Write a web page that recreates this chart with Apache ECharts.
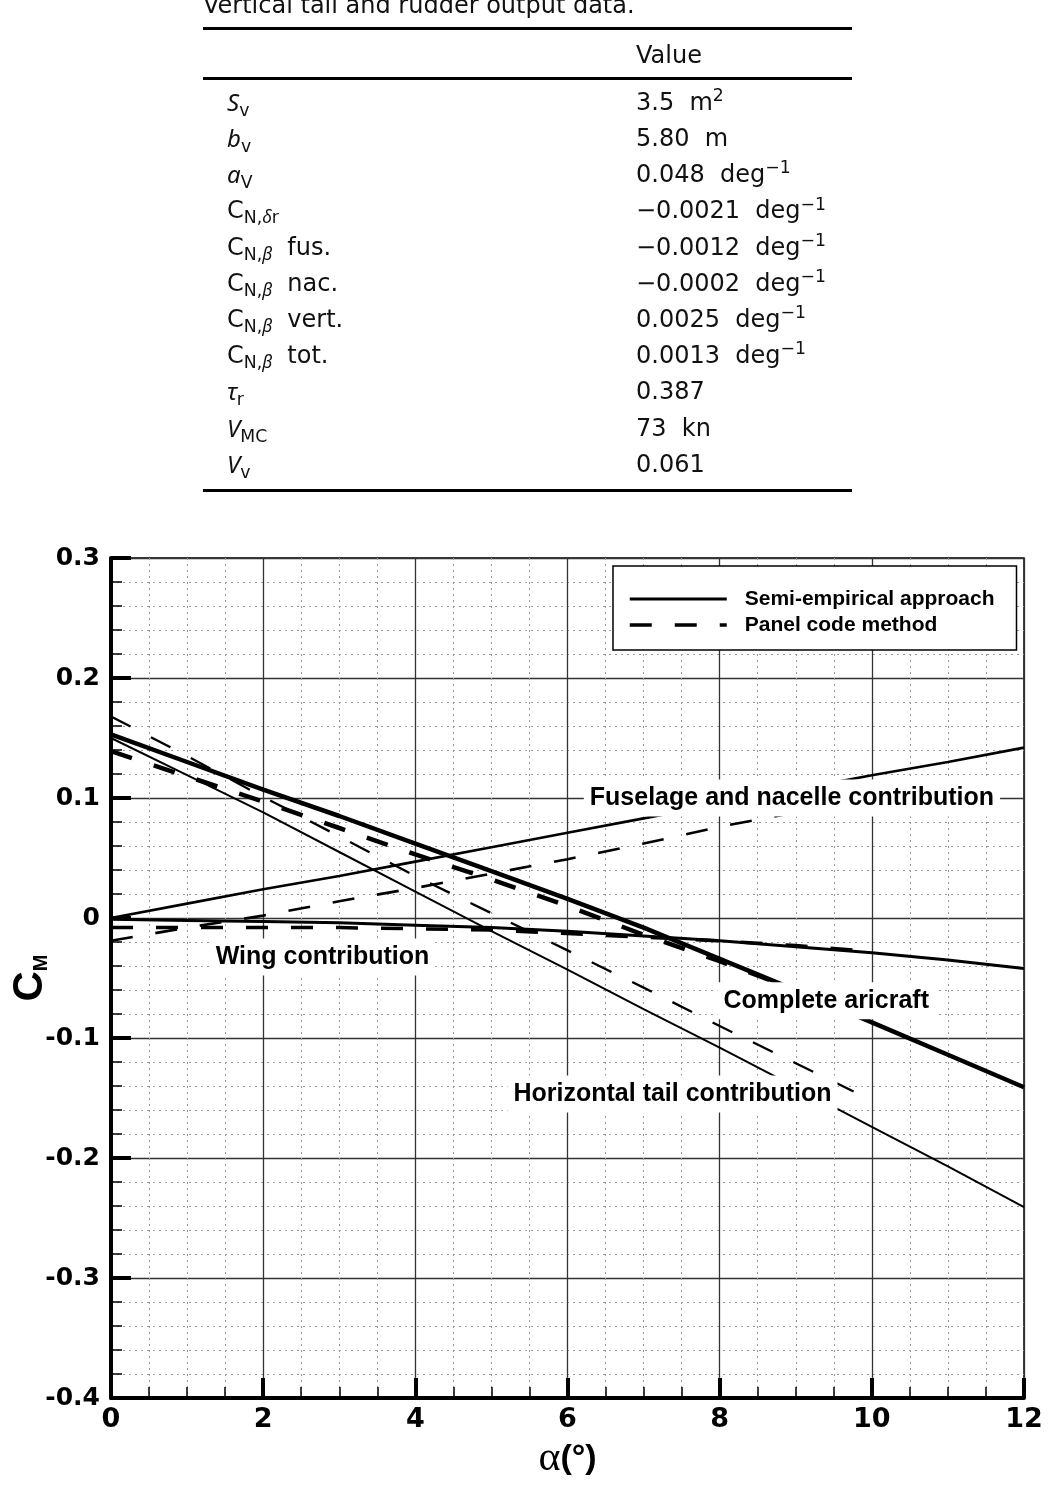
<!DOCTYPE html>
<html>
<head>
<meta charset="utf-8">
<script src="https://cdn.jsdelivr.net/npm/echarts/dist/echarts.min.js"></script>
<style>
html,body{margin:0;padding:0;background:#fff;width:1059px;height:1497px;overflow:hidden;}
#chart{position:absolute;left:0;top:0;width:1059px;height:1497px;z-index:0;}
#table{position:absolute;left:0;top:0;width:1059px;height:520px;z-index:1;font-family:'DejaVu Sans',sans-serif;font-size:24px;color:#111;}
.t{position:absolute;white-space:nowrap;line-height:30px;height:30px;}
.rule{position:absolute;left:203px;width:649px;height:2.5px;background:#000;}
.sb{font-size:0.72em;position:relative;top:0.3em;line-height:0;}
.sp{font-size:0.72em;position:relative;top:-0.5em;line-height:0;}
.it{font-style:italic;font-family:'Noto Sans',sans-serif;}
</style>
</head>
<body>
<div id="chart"></div>
<div id="table"></div>
<script>
// ---------------- table data ----------------
const tableCaption = 'Vertical tail and rudder output data.';
const tableHeader = 'Value';
const tableParams = [
  '<span class="it">S</span><span class="sb">v</span>',
  '<span class="it">b</span><span class="sb">v</span>',
  '<span class="it">a</span><span class="sb">V</span>',
  'C<span class="sb">N,<span class="it">δ</span>r</span>',
  'C<span class="sb">N,<span class="it">β</span></span>&nbsp; fus.',
  'C<span class="sb">N,<span class="it">β</span></span>&nbsp; nac.',
  'C<span class="sb">N,<span class="it">β</span></span>&nbsp; vert.',
  'C<span class="sb">N,<span class="it">β</span></span>&nbsp; tot.',
  '<span class="it">τ</span><span class="sb">r</span>',
  '<span class="it">V</span><span class="sb">MC</span>',
  '<span class="it">V</span><span class="sb">v</span>'
];
const tableValues = [
  '3.5&nbsp; m<span class="sp">2</span>',
  '5.80&nbsp; m',
  '0.048&nbsp; deg<span class="sp">−1</span>',
  '−0.0021&nbsp; deg<span class="sp">−1</span>',
  '−0.0012&nbsp; deg<span class="sp">−1</span>',
  '−0.0002&nbsp; deg<span class="sp">−1</span>',
  '0.0025&nbsp; deg<span class="sp">−1</span>',
  '0.0013&nbsp; deg<span class="sp">−1</span>',
  '0.387',
  '73&nbsp; kn',
  '0.061'
];

// ---------------- chart data ----------------
const alphaSemi = [0, 1, 2, 3, 4, 5, 6, 7, 8, 9, 10, 11, 12];
const cmSemiComplete = [0.153, 0.130, 0.107, 0.085, 0.062, 0.039, 0.016, -0.008, -0.034, -0.060, -0.087, -0.114, -0.141];
const cmSemiTail = [0.150, 0.119, 0.088, 0.055, 0.022, -0.011, -0.043, -0.076, -0.108, -0.141, -0.174, -0.207, -0.241];
const cmSemiFuselage = [0.000, 0.012, 0.024, 0.035, 0.047, 0.059, 0.071, 0.083, 0.095, 0.107, 0.119, 0.130, 0.142];
const cmSemiWing = [-0.001, -0.002, -0.003, -0.004, -0.006, -0.008, -0.011, -0.015, -0.019, -0.024, -0.029, -0.035, -0.042];

const alphaPanel = [0, 1, 2, 3, 4, 5, 6, 7, 8, 9, 10];
const cmPanelComplete = [0.139, 0.118, 0.097, 0.075, 0.053, 0.032, 0.010, -0.014, -0.036, -0.060, -0.087];
const cmPanelTail = [0.168, 0.135, 0.101, 0.068, 0.035, 0.004, -0.027, -0.058, -0.090, -0.121, -0.152];
const cmPanelFuselage = [-0.019, -0.008, 0.002, 0.014, 0.025, 0.037, 0.049, 0.062, 0.076, 0.088, 0.100];
const cmPanelWing = [-0.008, -0.008, -0.008, -0.008, -0.009, -0.010, -0.013, -0.016, -0.019, -0.023, -0.028];

const methodNames = ['Semi-empirical approach', 'Panel code method'];
const curveLabels = ['Fuselage and nacelle contribution', 'Wing contribution', 'Complete aricraft', 'Horizontal tail contribution'];
const yAxisName = 'CM';

// ---------------- table layout ----------------
(function buildTable() {
  const t = document.getElementById('table');
  let html = '';
  html += '<div class="t" style="left:203px;top:-10px;">' + tableCaption + '</div>';
  html += '<div class="rule" style="top:27px;"></div>';
  html += '<div class="t" style="left:636px;top:40px;">' + tableHeader + '</div>';
  html += '<div class="rule" style="top:77px;"></div>';
  for (let i = 0; i < tableParams.length; i++) {
    const top = 110 - 23.3 + i * 36.2;
    html += '<div class="t" style="left:227px;top:' + top + 'px;">' + tableParams[i] + '</div>';
    html += '<div class="t" style="left:636px;top:' + top + 'px;">' + tableValues[i] + '</div>';
  }
  html += '<div class="rule" style="top:489px;"></div>';
  t.innerHTML = html;
})();

// ---------------- chart ----------------
const pairs = (xs, ys) => xs.map((x, i) => [x, ys[i]]);
const DASH = [22, 23];
const lineSpecs = [
  { name: methodNames[0], data: pairs(alphaSemi, cmSemiFuselage), width: 2.6, type: 'solid' },
  { name: methodNames[0], data: pairs(alphaSemi, cmSemiWing), width: 3, type: 'solid' },
  { name: methodNames[0], data: pairs(alphaSemi, cmSemiTail), width: 2, type: 'solid' },
  { name: methodNames[0], data: pairs(alphaSemi, cmSemiComplete), width: 4.5, type: 'solid' },
  { name: methodNames[1], data: pairs(alphaPanel, cmPanelFuselage), width: 2.6, type: DASH },
  { name: methodNames[1], data: pairs(alphaPanel, cmPanelWing), width: 3.5, type: DASH },
  { name: methodNames[1], data: pairs(alphaPanel, cmPanelTail), width: 2.3, type: DASH },
  { name: methodNames[1], data: pairs(alphaPanel, cmPanelComplete), width: 4.5, type: DASH }
];
const labelAnchors = [[8.95, 0.100], [2.78, -0.0325], [9.40, -0.069], [7.38, -0.1467]];

const series = lineSpecs.map(s => ({
  type: 'line', name: s.name, data: s.data, symbol: 'none', showSymbol: false,
  lineStyle: { color: '#000', width: s.width, type: s.type, cap: 'butt' },
  itemStyle: { color: '#000' }, z: 2, silent: true
}));
series.push({
  type: 'scatter', name: 'labels', z: 5, silent: true,
  symbol: 'rect', symbolSize: 1, itemStyle: { color: 'rgba(0,0,0,0)', opacity: 1 },
  emphasis: { disabled: true },
  data: labelAnchors.map((p, i) => [p[0], p[1], curveLabels[i]]),
  label: {
    show: true, position: 'inside', formatter: p => p.data[2],
    fontFamily: 'Liberation Sans', fontWeight: 'bold', fontSize: 25, color: '#000',
    textBorderWidth: 0, opacity: 1,
    backgroundColor: '#fff', padding: [6, 6, 6, 6]
  }
});

const chart = echarts.init(document.getElementById('chart'), null, { renderer: 'canvas' });
const tickFont = { fontFamily: 'DejaVu Sans', fontWeight: 'bold', color: '#000' };
chart.setOption({
  animation: false,
  backgroundColor: 'transparent',
  grid: { left: 111, top: 558, right: 35, bottom: 99, show: true, borderColor: '#000', borderWidth: 1.5, backgroundColor: 'transparent', containLabel: false, outerBoundsMode: 'none' },
  legend: {
    show: true, orient: 'vertical', left: 613, top: 566,
    data: [
      { name: methodNames[0], lineStyle: { width: 3, type: 'solid', color: '#000' }, itemStyle: { opacity: 0 } },
      { name: methodNames[1], lineStyle: { width: 3.5, type: DASH, color: '#000' }, itemStyle: { opacity: 0 } }
    ],
    itemStyle: { opacity: 0 },
    itemWidth: 97, itemHeight: 14, itemGap: 4,
    padding: [22, 22, 14, 15],
    backgroundColor: '#fff', borderColor: '#000', borderWidth: 1.5, borderRadius: 0,
    selectedMode: false,
    textStyle: { fontFamily: 'Liberation Sans', fontWeight: 'bold', fontSize: 21, color: '#000', lineHeight: 22, padding: [0, 0, 0, 13] }
  },
  xAxis: {
    type: 'value', min: 0, max: 12, interval: 2,
    axisLine: { show: true, onZero: false, lineStyle: { color: '#000', width: 4 } },
    axisTick: { show: true, inside: true, length: 20, lineStyle: { color: '#000', width: 4 } },
    minorTick: { show: true, splitNumber: 4, length: 11, lineStyle: { color: '#000', width: 1.5 } },
    splitLine: { show: true, lineStyle: { color: '#333', width: 1.3 } },
    minorSplitLine: { show: true, lineStyle: { color: '#999', width: 1, type: [2, 4] } },
    axisLabel: Object.assign({ margin: 8, fontSize: 27 }, tickFont),
    name: '{a|α}{b|(°)}', nameLocation: 'middle', nameGap: 40, nameMoveOverlap: false,
    nameTextStyle: {
      rich: {
        a: { fontFamily: 'Liberation Serif', fontSize: 42, color: '#000' },
        b: { fontFamily: 'Liberation Sans', fontWeight: 'bold', fontSize: 34, color: '#000' }
      }
    }
  },
  yAxis: {
    type: 'value', min: -0.4, max: 0.3, interval: 0.1,
    axisLine: { show: true, onZero: false, lineStyle: { color: '#000', width: 4 } },
    axisTick: { show: true, inside: true, length: 20, lineStyle: { color: '#000', width: 4 } },
    minorTick: { show: true, splitNumber: 5, length: 11, lineStyle: { color: '#000', width: 1.5 } },
    splitLine: { show: true, lineStyle: { color: '#333', width: 1.3 } },
    minorSplitLine: { show: true, lineStyle: { color: '#999', width: 1, type: [2, 4] } },
    axisLabel: Object.assign({ margin: 11, fontSize: 25, formatter: v => (Math.abs(v) < 1e-9 ? '0' : (Math.round(v * 10) / 10).toFixed(1)) }, tickFont),
    name: '{c|' + yAxisName[0] + '}{m|' + yAxisName[1] + '}', nameLocation: 'middle', nameRotate: 90, nameGap: 60, nameMoveOverlap: false,
    nameTextStyle: {
      rich: {
        c: { fontFamily: 'Liberation Sans', fontWeight: 'bold', fontSize: 42, lineHeight: 42, verticalAlign: 'top', color: '#000' },
        m: { fontFamily: 'Liberation Sans', fontWeight: 'bold', fontSize: 20, lineHeight: 16, verticalAlign: 'bottom', color: '#000' }
      }
    }
  },
  series: series
});
</script>
</body>
</html>
